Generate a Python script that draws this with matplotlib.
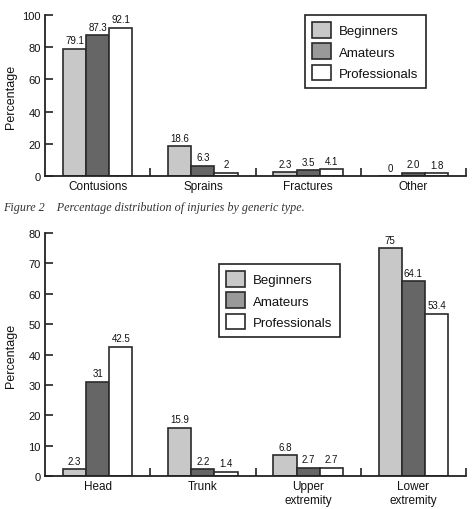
from matplotlib import pyplot as plt
from matplotlib.patches import Patch
import numpy as np

plt.rcParams['font.family'] = ['Liberation Sans', 'DejaVu Sans']

groups = ['Beginners', 'Amateurs', 'Professionals']

# Figure 2: injuries by generic type
type_cats = ['Contusions', 'Sprains', 'Fractures', 'Other']
type_beg = [79.1, 18.6, 2.3, 0]
type_ama = [87.3, 6.3, 3.5, 2.0]
type_pro = [92.1, 2, 4.1, 1.8]
type_beg_lbl = ['79.1', '18.6', '2.3', '0']
type_ama_lbl = ['87.3', '6.3', '3.5', '2.0']
type_pro_lbl = ['92.1', '2', '4.1', '1.8']

# injuries by body site
site_cats = ['Head', 'Trunk', 'Upper\nextremity', 'Lower\nextremity']
site_beg = [2.3, 15.9, 6.8, 75]
site_ama = [31, 2.2, 2.7, 64.1]
site_pro = [42.5, 1.4, 2.7, 53.4]
site_beg_lbl = ['2.3', '15.9', '6.8', '75']
site_ama_lbl = ['31', '2.2', '2.7', '64.1']
site_pro_lbl = ['42.5', '1.4', '2.7', '53.4']

bar_colors = ['#c8c8c8', '#666666', '#ffffff']
legend_colors = ['#c8c8c8', '#999999', '#ffffff']
edge = '#2a2a2a'
txt = '#111111'
w = 0.22


def draw(ax, cats, series, labels, ymax, ystep, legend_xy):
    x = np.arange(len(cats))
    for i, (vals, lbls) in enumerate(zip(series, labels)):
        pos = x + (i - 1) * w
        ax.bar(pos, vals, w, color=bar_colors[i], edgecolor=edge, linewidth=1.2, zorder=2)
        for px, v, s in zip(pos, vals, lbls):
            ax.annotate(s, (px, v), xytext=(0, 2.5), textcoords='offset points',
                        ha='center', va='bottom', fontsize=7, color=txt)
    ax.set_xlim(-0.5, len(cats) - 0.5)
    ax.set_ylim(0, ymax)
    ax.set_yticks(np.arange(0, ymax + 1, ystep))
    ax.set_xticks(x)
    ax.set_xticklabels(cats, fontsize=8.5, color=txt, linespacing=1.15)
    ax.set_xticks(list(x[:-1] + 0.5) + [len(cats) - 0.5], minor=True)
    ax.tick_params(axis='x', which='major', length=0, pad=3)
    ax.tick_params(axis='x', which='minor', direction='in', length=6, width=1.2, color='#222222')
    ax.tick_params(axis='y', direction='in', length=6, width=1.2, color='#222222',
                   labelsize=8, labelcolor=txt, pad=3)
    for s in ['top', 'right']:
        ax.spines[s].set_visible(False)
    for s in ['left', 'bottom']:
        ax.spines[s].set_linewidth(1.3)
        ax.spines[s].set_color('#222222')
    ax.set_ylabel('Percentage', fontsize=9, color=txt)
    ax.yaxis.set_label_coords(-0.066, 0.5)
    handles = [Patch(facecolor=c, edgecolor=edge, linewidth=1.2) for c in legend_colors]
    leg = ax.legend(handles, groups, loc='upper left', bbox_to_anchor=legend_xy,
                    bbox_transform=fig.transFigure, borderaxespad=0, fontsize=9.5,
                    handlelength=1.45, handleheight=1.45, labelspacing=0.42,
                    handletextpad=0.6, borderpad=0.55, fancybox=False, framealpha=1)
    for t in leg.get_texts():
        t.set_color(txt)
    leg.get_frame().set_edgecolor('#222222')
    leg.get_frame().set_linewidth(1.2)


fig = plt.figure(figsize=(4.76, 5.10), dpi=100)
ax1 = fig.add_axes([45 / 476, 1 - 177 / 510, 421 / 476, 161 / 510])
ax2 = fig.add_axes([45 / 476, 1 - 477 / 510, 421 / 476, 243 / 510])

draw(ax1, type_cats, [type_beg, type_ama, type_pro],
     [type_beg_lbl, type_ama_lbl, type_pro_lbl], 100, 20, (305 / 476, 1 - 16 / 510))
draw(ax2, site_cats, [site_beg, site_ama, site_pro],
     [site_beg_lbl, site_ama_lbl, site_pro_lbl], 80, 10, (219 / 476, 1 - 265 / 510))

fig.text(3 / 476, 1 - 208 / 510,
         'Figure 2    Percentage distribution of injuries by generic type.',
         family='Liberation Serif', style='italic', fontsize=8.7, color='#333333',
         ha='left', va='center')

plt.savefig('out.png', dpi=100)
